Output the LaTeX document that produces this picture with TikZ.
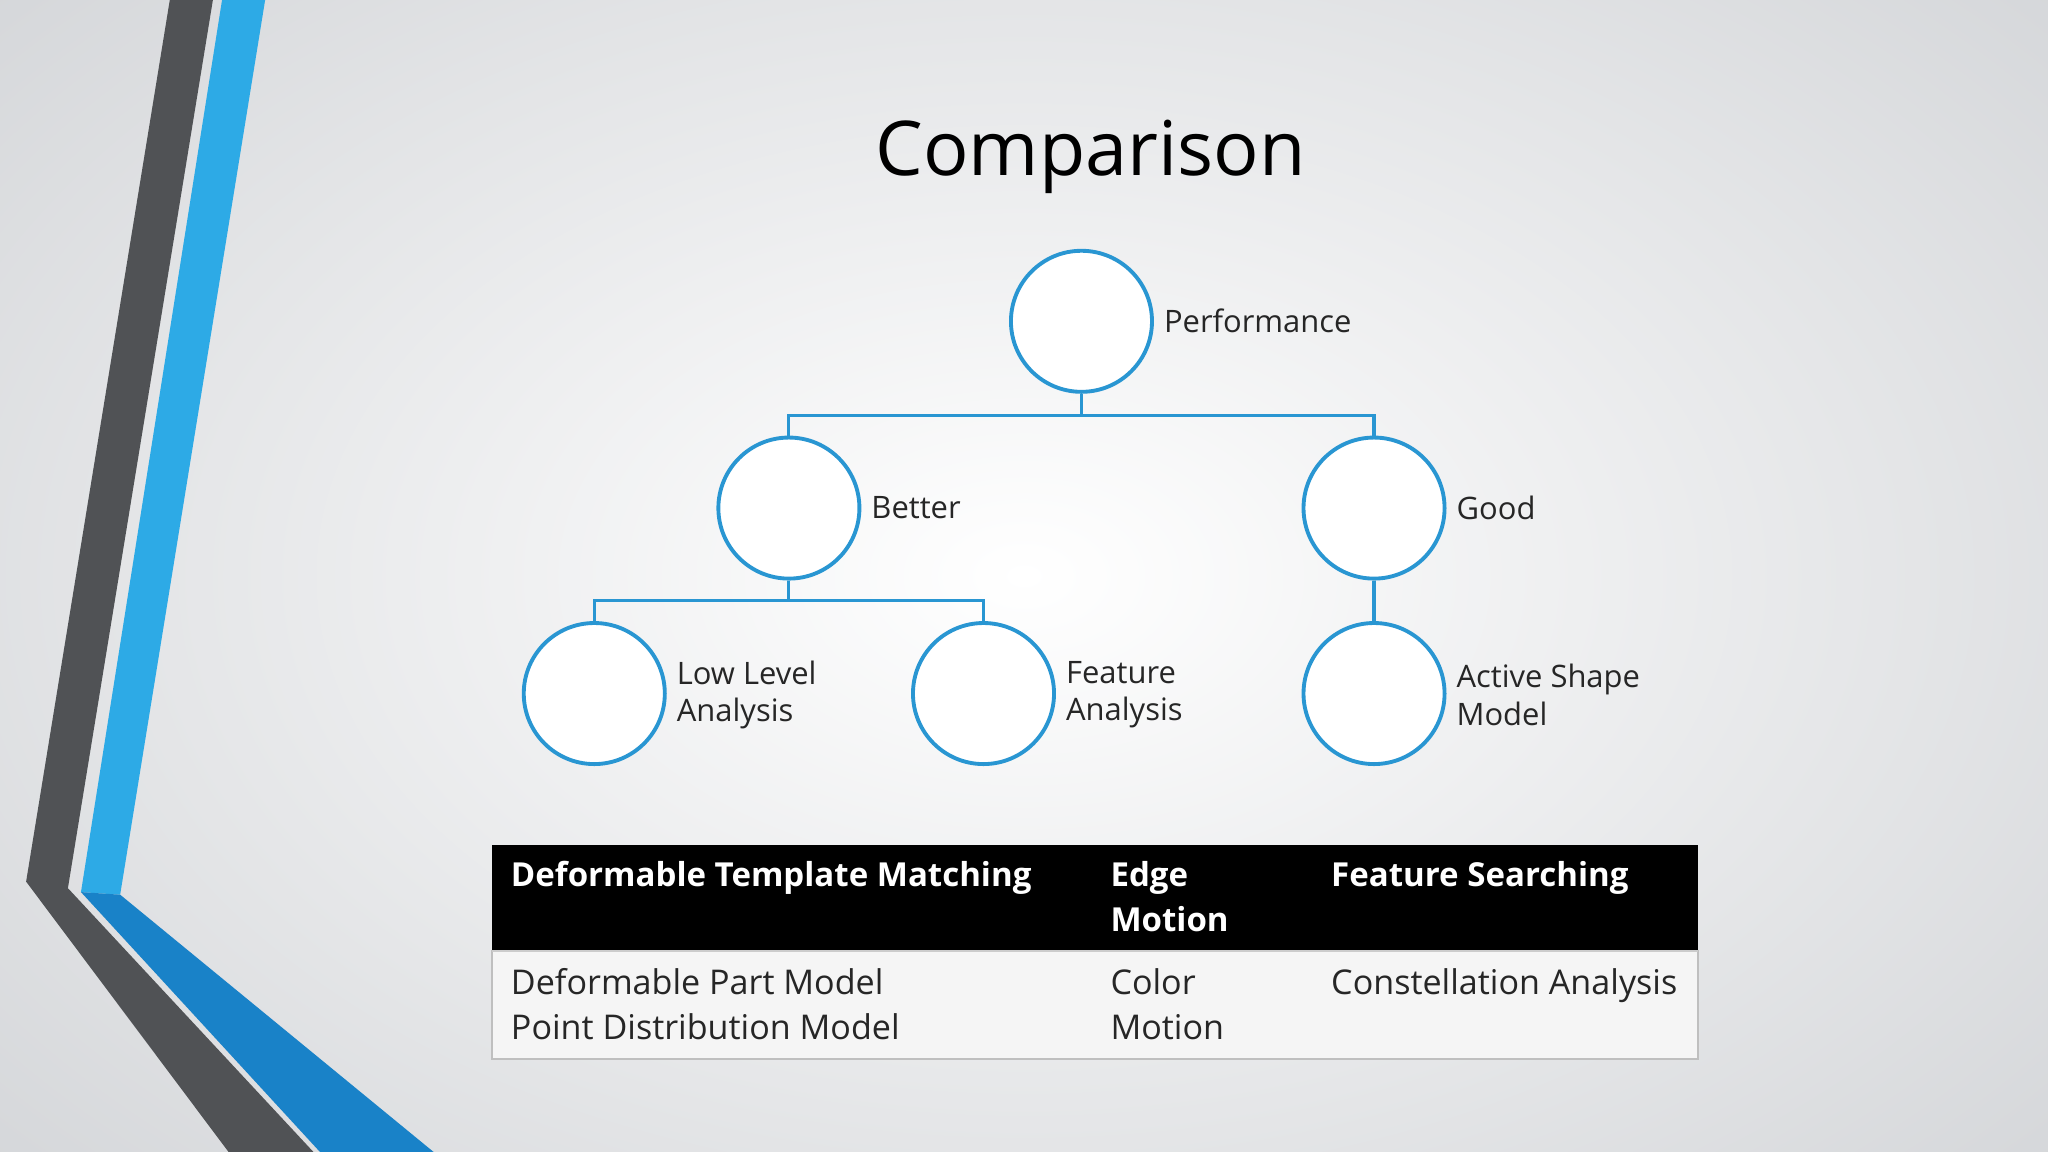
\documentclass[tikz,border=0pt]{standalone}
\usepackage{fontspec}
\setmainfont{Open Sans}
\begin{document}
\begin{tikzpicture}[x=0.01306cm,y=-0.01306cm,
  circ/.style={circle,draw=cblue,line width=1.1pt,fill=white,minimum size=108*0.01306cm,inner sep=0pt},
  lab/.style={anchor=west,align=left,font=\fontsize{8.8}{10.7}\selectfont,text=black!85,inner sep=1pt},
  conn/.style={draw=cblue,line width=0.9pt},
  th/.style={anchor=north west,align=left,text=white,font=\bfseries\fontsize{9.4}{13}\selectfont,inner sep=1pt},
  td/.style={anchor=north west,align=left,text=black!85,font=\fontsize{9.7}{13}\selectfont,inner sep=1pt}]
\definecolor{cblue}{RGB}{41,150,210}
\definecolor{bgc}{RGB}{212,214,217}
\definecolor{dband}{RGB}{80,82,85}
\definecolor{bband}{RGB}{45,170,230}
\definecolor{bband2}{RGB}{25,130,200}
\useasboundingbox (0,0) rectangle (1568,882);
\shade[inner color=white,outer color=bgc] (-300,-250) rectangle (1868,1132);
\fill[dband] (130,0) -- (163,0) -- (52,680) -- (240,882) -- (175,882) -- (20,675) -- cycle;
\fill[bband] (170,0) -- (203,0) -- (92,685) -- (62,683) -- cycle;
\fill[bband2] (62,683) -- (92,685) -- (332,882) -- (245,882) -- cycle;
\node[font=\fontsize{21.5}{24}\selectfont] (title) at (835,120) {Comparison};
\node[circ] (p) at (828,246) {};
\node[circ] (b) at (604,389) {};
\node[circ] (g) at (1052,389) {};
\node[circ] (l) at (455,531) {};
\node[circ] (f) at (753,531) {};
\node[circ] (a) at (1052,531) {};
\node[lab] at (888,246) (pl) {Performance};
\node[lab] at (664,389) (bl) {Better};
\node[lab] at (1112,389) (gl) {Good};
\node[lab] at (515,532) (ll) {Low Level\\Analysis};
\node[lab] at (813,532) (fl) {Feature\\Analysis};
\node[lab] at (1112,532) (al) {Active Shape\\Model};
\coordinate (j1) at (828,318);
\coordinate (j2) at (604,460);
\draw[conn] (p.south) -- (j1);
\draw[conn] (j1) -| (b.north);
\draw[conn] (j1) -| (g.north);
\draw[conn] (b.south) -- (j2);
\draw[conn] (j2) -| (l.north);
\draw[conn] (j2) -| (f.north);
\draw[conn] (g.south) -- (a.north);
\fill[black!4,draw=black!25,line width=0.6pt] (377,728) rectangle (1300,811);
\fill[black] (377,647) rectangle (1300,728);
\draw[white!80!black,line width=0.5pt] (377,728) -- (1300,728);
\node[th] (h1) at (388,656) {Deformable Template Matching};
\node[th] (h2) at (847,656) {Edge\\Motion};
\node[th] (h3) at (1016,656) {Feature Searching};
\node[td] (d1) at (388,738) {Deformable Part Model\\Point Distribution Model};
\node[td] (d2) at (847,738) {Color\\Motion};
\node[td] (d3) at (1016,738) {Constellation Analysis};
\end{tikzpicture}
\end{document}
